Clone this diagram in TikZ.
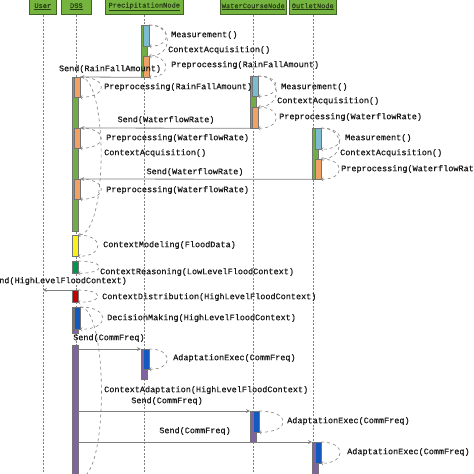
\documentclass[tikz,border=0pt]{standalone}
\usepackage{fontspec}
\newfontfamily\lblfont{Liberation Mono}[FakeBold=0.6]
\usepackage{xcolor}
\usepackage{tikz}
\usetikzlibrary{arrows,backgrounds,calc}

\definecolor{headgreen}{RGB}{118,180,64}
\definecolor{actgreen}{RGB}{112,173,71}
\definecolor{actcyan}{RGB}{125,188,208}
\definecolor{actorange}{RGB}{240,162,102}
\definecolor{actyellow}{RGB}{250,240,30}
\definecolor{actgreenb}{RGB}{0,150,80}
\definecolor{actred}{RGB}{192,0,0}
\definecolor{actpurple}{RGB}{128,100,162}
\definecolor{actblue}{RGB}{20,90,190}

\begin{document}
\begin{tikzpicture}[x=1pt,y=-1pt,
  every node/.style={font=\lblfont\fontsize{8.5}{10}\selectfont, text=black!90},
  head/.style={draw=headgreen!55!black, fill=headgreen, line width=0.6pt, minimum height=16pt, inner sep=0pt, anchor=south west, font=\lblfont\fontsize{7}{8}\selectfont, text=black!65!headgreen},
  life/.style={draw=black!50, dash pattern=on 2pt off 1.5pt, line width=0.6pt},
  bar/.style={draw=black!55, line width=0.3pt, minimum width=6pt, inner sep=0pt, anchor=north west},
  msg/.style={draw=black!50, line width=0.8pt, -stealth},
  call/.style={draw=black!50, dashed, line width=0.6pt, ->, >=to},
  lbl/.style={anchor=west, inner sep=0pt}
]
\useasboundingbox (0,0) rectangle (474,474);
\clip (0,0) rectangle (474,474);

% heads and lifelines
\node[head, minimum width=27pt] (user) at (29,15) {\underline{User}};
\node[head, minimum width=30pt] (dss) at (61,15) {\underline{DSS}};
\node[head, minimum width=78pt] (prec) at (105,15) {\underline{PrecipitationNode}};
\node[head, minimum width=66pt] (water) at (220,15) {\underline{WaterCourseNode}};
\node[head, minimum width=47pt] (outlet) at (289,15) {\underline{OutletNode}};
\coordinate (bottom) at (0,480);
\foreach \n in {user,dss,prec,water,outlet}
  \draw[life] (\n.south) -- (\n.south |- bottom);

% activations
\node[bar, fill=actgreen, minimum height=52pt] (pBar) at (141,25) {};
\node[bar, fill=actcyan, minimum height=21pt] (pMeas) at (143,25) {};
\node[bar, fill=actorange, minimum height=21pt] (pPre) at (143,56) {};

\node[bar, fill=actgreen, minimum height=154pt] (dBar) at (72,77) {};
\node[bar, fill=actorange, minimum height=20pt] (dPre1) at (74,77) {};
\node[bar, fill=actorange, minimum height=20pt] (dPre2) at (74,128) {};
\node[bar, fill=actorange, minimum height=20pt] (dPre3) at (74,179) {};

\node[bar, fill=actgreen, minimum height=52pt] (wBar) at (250,76) {};
\node[bar, fill=actcyan, minimum height=20pt] (wMeas) at (252,76) {};
\node[bar, fill=actorange, minimum height=21pt] (wPre) at (252,107) {};

\node[bar, fill=actgreen, minimum height=51pt] (oBar) at (312,128) {};
\node[bar, fill=actcyan, minimum height=21pt] (oMeas) at (315,128) {};
\node[bar, fill=actorange, minimum height=20pt] (oPre) at (315,159) {};

\node[bar, fill=actyellow, minimum height=21pt] (dYel) at (72,235) {};
\node[bar, fill=actgreenb, minimum height=12pt] (dRea) at (72,261) {};
\node[bar, fill=actred, minimum height=12pt] (dRed) at (72,290) {};
\node[bar, fill=actpurple, minimum height=26pt] (dPa) at (72,307) {};
\node[bar, fill=actblue, minimum height=22pt] (dBlu) at (74,307) {};
\node[bar, fill=actpurple, minimum height=145pt] (dPb) at (72,345) {};
\coordinate (dEnd) at (79,478);

\node[bar, fill=actpurple, minimum height=30pt] (pPu) at (141,349) {};
\node[bar, fill=actblue, minimum height=20pt] (pBlu) at (143,349) {};
\node[bar, fill=actpurple, minimum height=31pt] (wPu) at (250,411) {};
\node[bar, fill=actblue, minimum height=21pt] (wBlu) at (253,411) {};
\node[bar, fill=actpurple, minimum height=48pt] (oPu) at (312,442) {};
\node[bar, fill=actblue, minimum height=21pt] (oBlu) at (315,442) {};

% self calls
\draw[call] (pMeas.north east) .. controls +(23,0) and +(23,0) .. (pMeas.south east);
\draw[call] (pMeas.north east) .. controls +(24,0) and +(24,0) .. (pPre.north east);
\draw[call] (pPre.north east) .. controls +(22,0) and +(22,0) .. (pPre.south east);
\draw[call] (dPre1.north east) .. controls +(28,0) and +(28,0) .. (dPre1.south east);
\draw[call] (dPre1.north east) .. controls +(28,0) and +(30,0) .. (dYel.north east);
\draw[call] (dPre2.north east) .. controls +(28,0) and +(28,0) .. (dPre2.south east);
\draw[call] (dPre3.north east) .. controls +(28,0) and +(28,0) .. (dPre3.south east);
\draw[call] (wMeas.north east) .. controls +(24,0) and +(24,0) .. (wMeas.south east);
\draw[call] (wMeas.north east) .. controls +(24,0) and +(24,0) .. (wPre.north east);
\draw[call] (wPre.north east) .. controls +(24,0) and +(24,0) .. (wPre.south east);
\draw[call] (oMeas.north east) .. controls +(25,0) and +(25,0) .. (oMeas.south east);
\draw[call] (oMeas.north east) .. controls +(24,0) and +(24,0) .. (oPre.north east);
\draw[call] (oPre.north east) .. controls +(24,0) and +(24,0) .. (oPre.south east);
\draw[call] (dYel.north east) .. controls +(26,0) and +(26,0) .. (dYel.south east);
\draw[call] (dRea.north east) .. controls +(28,0) and +(28,0) .. (dRea.south east);
\draw[call] (dRed.north east) .. controls +(26,0) and +(26,0) .. (dRed.south east);
\draw[call] (dBlu.north east) .. controls +(30,0) and +(30,0) .. (dBlu.south east);
\draw[call] (dBlu.north east) .. controls +(28,0) and +(30,0) .. (dEnd);
\draw[call] (pBlu.north east) .. controls +(24,0) and +(24,0) .. (pBlu.south east);
\draw[call] (wBlu.north east) .. controls +(32,0) and +(32,0) .. (wBlu.south east);
\draw[call] (oBlu.north east) .. controls +(25,0) and +(25,0) .. (oBlu.south east);

% messages
\draw[msg] (pBar.south west) -- (dPre1.north east);
\draw[msg] (wBar.south west) -- (dPre2.north east);
\draw[msg] (oBar.south west) -- (dPre3.north east);
\draw[msg] (dRed.north west) -- (dRed.north west -| user.south);
\draw[msg] (pPu.north west -| dPb.east) -- (pPu.north west);
\draw[msg] (wPu.north west -| dPb.east) -- (wPu.north west);
\draw[msg] (oPu.north west -| dPb.east) -- (oPu.north west);

% labels
\node[lbl] (tpMeas) at (171,35) {Measurement()};
\node[lbl] (tpAcq) at (168,50) {ContextAcquisition()};
\node[lbl] (tpPre) at (171,65) {Preprocessing(RainFallAmount)};
\node[inner sep=0pt] (tSend1) at (110,69) {Send(RainFallAmount)};
\node[lbl] (tdPre1) at (104,87) {Preprocessing(RainFallAmount)};
\node[lbl] (twMeas) at (281,87) {Measurement()};
\node[lbl] (twAcq) at (277,101) {ContextAcquisition()};
\node[lbl] (twPre) at (279,117) {Preprocessing(WaterflowRate)};
\node[inner sep=0pt] (tSend2) at (166,120) {Send(WaterflowRate)};
\node[lbl] (tdPre2) at (106,138) {Preprocessing(WaterflowRate)};
\node[lbl] (toMeas) at (345,138) {Measurement()};
\node[lbl] (tdAcq) at (104,153) {ContextAcquisition()};
\node[lbl] (toAcq) at (340,153) {ContextAcquisition()};
\node[lbl] (toPre) at (341,169) {Preprocessing(WaterflowRate)};
\node[inner sep=0pt] (tSend3) at (195,172) {Send(WaterflowRate)};
\node[lbl] (tdPre3) at (106,190) {Preprocessing(WaterflowRate)};
\node[lbl] (tdMod) at (103,245) {ContextModeling(FloodData)};
\node[lbl] (tdRea) at (100,272) {ContextReasoning(LowLevelFloodContext)};
\node[anchor=east, inner sep=0pt] (tSend4) at (127,281) {Send(HighLevelFloodContext)};
\node[lbl] (tdDis) at (102,297) {ContextDistribution(HighLevelFloodContext)};
\node[lbl] (tdDec) at (107,318) {DecisionMaking(HighLevelFloodContext)};
\node[lbl] (tSend5) at (73,338) {Send(CommFreq)};
\node[lbl] (tpExec) at (173,358) {AdaptationExec(CommFreq)};
\node[lbl] (tdAda) at (104,390) {ContextAdaptation(HighLevelFloodContext)};
\node[inner sep=0pt] (tSend6) at (167,401) {Send(CommFreq)};
\node[lbl] (twExec) at (287,421) {AdaptationExec(CommFreq)};
\node[inner sep=0pt] (tSend7) at (195,431) {Send(CommFreq)};
\node[lbl] (toExec) at (347,452) {AdaptationExec(CommFreq)};
\end{tikzpicture}
\end{document}
